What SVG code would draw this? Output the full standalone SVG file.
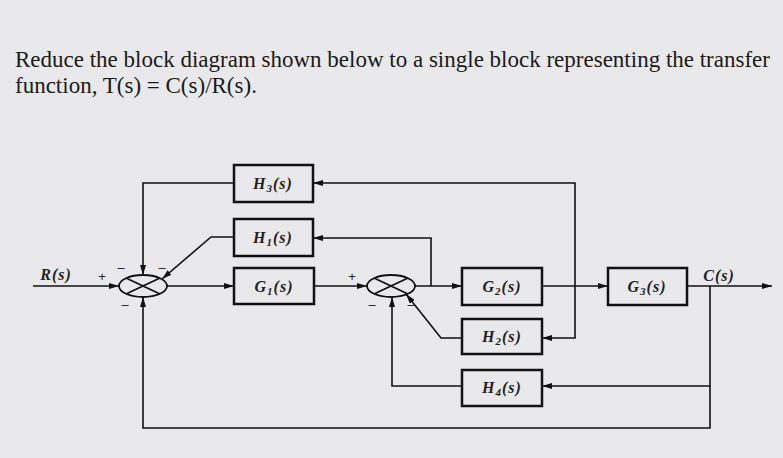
<svg xmlns="http://www.w3.org/2000/svg" width="783" height="458" viewBox="0 0 783 458">
<defs>
<marker id="a" viewBox="0 0 10 6" refX="10" refY="3" markerWidth="10" markerHeight="6" markerUnits="userSpaceOnUse" orient="auto"><path d="M0,0 L10,3 L0,6 z" fill="#111"/></marker>
</defs>
<style>
.t{font-family:"Liberation Serif",serif;font-size:23px;fill:#1a1a1a}
.b rect{fill:none;stroke:#111;stroke-width:2.5}
.b text,.l{font-family:"Liberation Serif",serif;font-style:italic;font-weight:bold;font-size:16px;letter-spacing:1px;fill:#222;text-anchor:middle}
.s{font-family:"Liberation Sans",sans-serif;font-size:13px;fill:#222;text-anchor:middle}
#c path{fill:none;stroke:#111;stroke-width:1.6}
.j ellipse,.j path{fill:none;stroke:#111;stroke-width:1.8}
</style>
<rect width="783" height="458" fill="#e9e9eb"/>
<text class="t" x="15" y="67" textLength="755">Reduce the block diagram shown below to a single block representing the transfer</text>
<text class="t" x="15" y="93">function, T(s) = C(s)/R(s).</text>
<g id="H3" class="b"><rect x="234" y="165" width="79" height="37"/><text x="273" y="189">H<tspan font-size="11" dy="3">3</tspan><tspan dy="-3">(s)</tspan></text></g>
<g id="H1" class="b"><rect x="234" y="219" width="79" height="37"/><text x="273" y="243">H<tspan font-size="11" dy="3">1</tspan><tspan dy="-3">(s)</tspan></text></g>
<g id="G1" class="b"><rect x="234" y="268" width="80" height="36"/><text x="274" y="292">G<tspan font-size="11" dy="3">1</tspan><tspan dy="-3">(s)</tspan></text></g>
<g id="G2" class="b"><rect x="462" y="268" width="80" height="37"/><text x="502" y="292">G<tspan font-size="11" dy="3">2</tspan><tspan dy="-3">(s)</tspan></text></g>
<g id="G3" class="b"><rect x="608" y="268" width="79" height="37"/><text x="647" y="292">G<tspan font-size="11" dy="3">3</tspan><tspan dy="-3">(s)</tspan></text></g>
<g id="H2" class="b"><rect x="462" y="319" width="80" height="35"/><text x="502" y="342">H<tspan font-size="11" dy="3">2</tspan><tspan dy="-3">(s)</tspan></text></g>
<g id="H4" class="b"><rect x="462" y="370" width="80" height="36"/><text x="502" y="393">H<tspan font-size="11" dy="3">4</tspan><tspan dy="-3">(s)</tspan></text></g>
<g id="S1" class="j"><ellipse cx="143" cy="286" rx="24" ry="11"/><path d="M126,278 L160,294 M126,294 L160,278"/></g>
<g id="S2" class="j"><ellipse cx="391" cy="286" rx="24" ry="11"/><path d="M374,278 L408,294 M374,294 L408,278"/></g>
<g id="c">
<path d="M33,286 H119" marker-end="url(#a)"/>
<path d="M234,183 H143 V275" marker-end="url(#a)"/>
<path d="M234,237 H211 L162,279" marker-end="url(#a)"/>
<path d="M167,286 H234" marker-end="url(#a)"/>
<path d="M314,286 H367" marker-end="url(#a)"/>
<path d="M415,286 H462" marker-end="url(#a)"/>
<path d="M431,286 V238 H313" marker-end="url(#a)"/>
<path d="M542,286 H608" marker-end="url(#a)"/>
<path d="M575,286 V183 H313" marker-end="url(#a)"/>
<path d="M575,286 V338 H542" marker-end="url(#a)"/>
<path d="M462,338 H441 L406,294" marker-end="url(#a)"/>
<path d="M462,386 H392 V297" marker-end="url(#a)"/>
<path d="M687,286 H772" marker-end="url(#a)"/>
<path d="M710,286 V386 H542" marker-end="url(#a)"/>
<path d="M710,386 V428 H143 V297" marker-end="url(#a)"/>
</g>
<text class="l" x="56" y="280">R(s)</text>
<text class="l" x="719" y="281">C(s)</text>
<text class="s" x="102" y="281">+</text>
<text class="s" x="121" y="272">–</text>
<text class="s" x="162" y="272">–</text>
<text class="s" x="125" y="309">–</text>
<text class="s" x="352" y="281">+</text>
<text class="s" x="372" y="309">–</text>
<text class="s" x="411" y="309">–</text>
</svg>
